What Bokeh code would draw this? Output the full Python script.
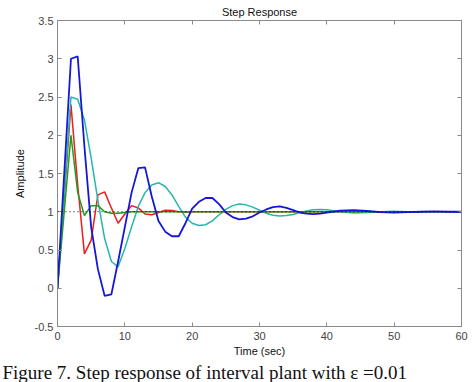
from bokeh.plotting import figure
from bokeh.models import LinearAxis, FixedTicker, Span, Title, Range1d
from bokeh.embed import file_html
from bokeh.resources import INLINE

# ---- data ----
t_blue = list(range(0, 41)) + [42, 44, 46, 48, 50, 52, 54, 56, 58, 60]
v_blue = [0, 1.5, 3.0, 3.03, 1.85, 0.8, 0.25, -0.1, -0.08, 0.35,
          0.8, 1.25, 1.57, 1.58, 1.2, 0.88, 0.74, 0.68, 0.68, 0.85,
          1.04, 1.13, 1.18, 1.18, 1.1, 0.99, 0.93, 0.9, 0.91, 0.94,
          0.99, 1.03, 1.06, 1.07, 1.05, 1.02, 0.99, 0.975, 0.97, 0.975,
          0.99, 1.015, 1.02, 1.01, 0.995, 0.99, 0.995, 1.0, 1.005, 1.0, 1.0]

t_cyan = list(range(0, 41)) + [42, 44, 46, 48, 50, 52, 54, 56, 58, 60]
v_cyan = [0, 1.25, 2.5, 2.47, 2.2, 1.7, 1.15, 0.65, 0.35, 0.28,
          0.52, 0.8, 1.07, 1.25, 1.35, 1.38, 1.33, 1.22, 1.07, 0.93,
          0.85, 0.82, 0.83, 0.88, 0.96, 1.03, 1.08, 1.1, 1.09, 1.06,
          1.02, 0.98, 0.955, 0.945, 0.95, 0.965, 0.99, 1.01, 1.025, 1.03,
          1.025, 1.0, 0.985, 0.99, 1.0, 1.005, 1.0, 0.998, 1.0, 1.0, 1.0]

t_red = list(range(0, 21)) + [25, 30, 40, 50, 60]
v_red = [0, 1.2, 2.4, 1.35, 0.45, 0.63, 1.22, 1.26, 1.05, 0.85,
         0.97, 1.08, 1.05, 0.97, 0.96, 0.99, 1.02, 1.015, 1.0, 0.995,
         1.0, 1.0, 1.0, 1.0, 1.0, 1.0]

t_green = list(range(0, 13)) + [15, 20, 30, 40, 50, 60]
v_green = [0, 1.0, 2.0, 1.25, 0.95, 1.08, 1.08, 1.0, 0.98, 0.98,
           0.99, 1.0, 1.0, 1.0, 1.0, 1.0, 1.0, 1.0, 1.0]

steady_value = 1.0
x_ticks = [0, 10, 20, 30, 40, 50, 60]
y_ticks = [-0.5, 0, 0.5, 1, 1.5, 2, 2.5, 3, 3.5]
y_tick_labels = ["-0.5", "0", "0.5", "1", "1.5", "2", "2.5", "3", "3.5"]

title_text = "Step Response"
x_label = "Time (sec)"
y_label = "Amplitude"
caption = "Figure 7. Step response of interval plant with  \u03b5 =0.01"

FONT = "Liberation Sans"
AX_COL = "#8a8a8a"
LAB_COL = "#444444"

p = figure(width=474, height=382, output_backend="svg", toolbar_location=None,
           x_range=Range1d(0, 60), y_range=Range1d(-0.5, 3.5),
           min_border_left=57, min_border_right=13, min_border_top=20,
           min_border_bottom=55, title=None)
p.outline_line_color = AX_COL
p.grid.visible = False
p.background_fill_color = "white"
p.border_fill_color = "white"


def style_axis(ax, labels=True):
    ax.axis_line_color = AX_COL
    ax.major_tick_line_color = AX_COL
    ax.major_tick_in = 4
    ax.major_tick_out = 0
    ax.minor_tick_line_color = None
    ax.major_label_text_font = FONT
    ax.major_label_text_font_size = "11px"
    ax.major_label_text_color = LAB_COL
    if not labels:
        ax.major_label_text_font_size = "0px"
        ax.major_label_standoff = 0
        ax.major_label_text_color = None


p.xaxis.ticker = FixedTicker(ticks=x_ticks)
p.yaxis.ticker = FixedTicker(ticks=y_ticks)
p.yaxis.major_label_overrides = {v: s for v, s in zip(y_ticks, y_tick_labels)}
style_axis(p.xaxis[0])
style_axis(p.yaxis[0])
p.xaxis.major_label_standoff = 5
p.yaxis.major_label_standoff = 4

p.xaxis.axis_label = x_label
p.yaxis.axis_label = y_label
for ax in (p.xaxis[0], p.yaxis[0]):
    ax.axis_label_text_font = FONT
    ax.axis_label_text_font_size = "11px"
    ax.axis_label_text_font_style = "normal"
    ax.axis_label_text_color = "#111111"
p.xaxis.axis_label_standoff = 2
p.yaxis.axis_label_standoff = 6

top_ax = LinearAxis(ticker=FixedTicker(ticks=x_ticks))
right_ax = LinearAxis(ticker=FixedTicker(ticks=y_ticks))
style_axis(top_ax, labels=False)
style_axis(right_ax, labels=False)
p.add_layout(top_ax, "above")
p.add_layout(right_ax, "right")

p.add_layout(Title(text=title_text, align="center", vertical_align="top",
                   text_font=FONT, text_font_size="11px",
                   text_font_style="normal", text_color="#111111",
                   standoff=2), "above")

p.add_layout(Span(location=steady_value, dimension="width", line_color="black",
                  line_dash="1 3", line_width=1.2))

p.line(t_red, v_red, line_color="#ee1d1d", line_width=1.5)
p.line(t_cyan, v_cyan, line_color="#26b6b0", line_width=1.5)
p.line(t_green, v_green, line_color="#1e9e1e", line_width=1.5)
p.line(t_blue, v_blue, line_color="#1616d6", line_width=1.8)

p.add_layout(Title(text=caption, align="left", text_font="Liberation Serif",
                   text_font_size="19px", text_font_style="normal",
                   text_color="#111111", standoff=0, offset=-55), "below")

open("out.html", "w").write(file_html(p, INLINE))
